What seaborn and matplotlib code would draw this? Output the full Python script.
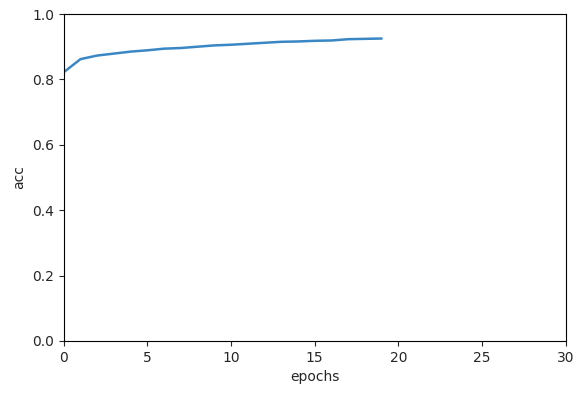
import matplotlib
matplotlib.use("Agg")
import matplotlib.pyplot as plt
import seaborn as sns

# training accuracy per epoch
epochs = list(range(20))
acc = [0.822, 0.862, 0.873, 0.879, 0.885, 0.889, 0.894, 0.896, 0.900, 0.904,
       0.906, 0.909, 0.912, 0.915, 0.916, 0.918, 0.919, 0.923, 0.924, 0.925]

sns.set_style("ticks")
plt.rcParams['font.family'] = ['DejaVu Sans']

fig = plt.figure(figsize=(5.85, 4), dpi=100)
ax = fig.add_axes([0.109, 0.1475, 0.858, 0.8175])
sns.lineplot(x=epochs, y=acc, ax=ax, color='#3a87c4', linewidth=1.8)
ax.set_xlim(0, 30)
ax.set_ylim(0, 1.0)
ax.set_xlabel('epochs')
ax.set_ylabel('acc')
for s in ax.spines.values():
    s.set_visible(True)
    s.set_color('black')
fig.savefig('out.png', dpi=100)
